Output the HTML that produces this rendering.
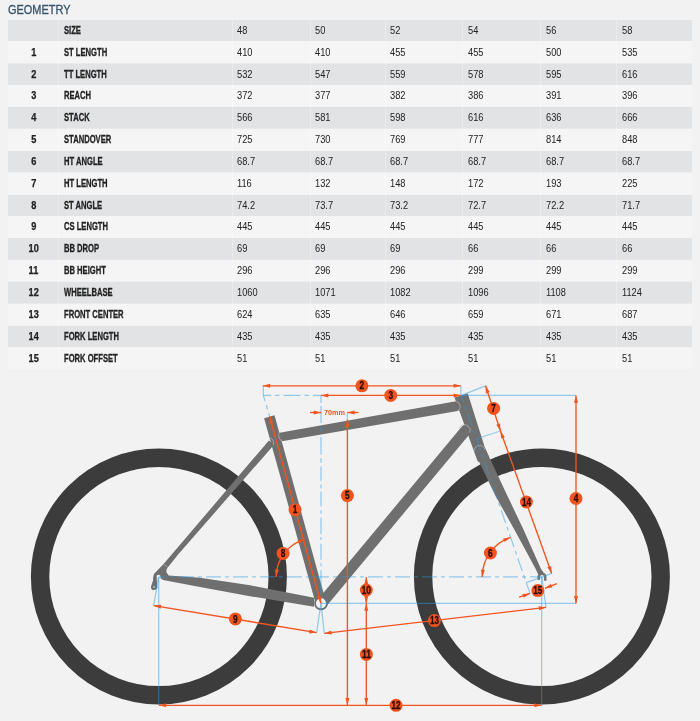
<!DOCTYPE html>
<html lang="en"><head><meta charset="utf-8"><title>Geometry</title>
<style>
html,body{margin:0;padding:0}
body{width:700px;height:721px;overflow:hidden;background:#f2f2f2;position:relative;font-family:"Liberation Sans",Arial,sans-serif;color:#222}
.ttl{position:absolute;left:8px;top:2.6px;font-size:12.6px;line-height:14px;color:#36526b;-webkit-text-stroke:.3px #36526b;white-space:nowrap;transform:scaleX(.87);transform-origin:0 50%}
.tb{position:absolute;left:8px;top:20px;width:684px;height:349.00px;background:linear-gradient(to bottom,#e2e3e5 0.50px,#e2e3e5 20.50px,#f5f5f5 21.50px,#f5f5f5 42.90px,#e2e3e5 43.90px,#e2e3e5 64.40px,#f5f5f5 65.40px,#f5f5f5 86.30px,#e2e3e5 87.30px,#e2e3e5 108.20px,#f5f5f5 109.20px,#f5f5f5 130.50px,#e2e3e5 131.50px,#e2e3e5 151.90px,#f5f5f5 152.90px,#f5f5f5 174.40px,#e2e3e5 175.40px,#e2e3e5 195.50px,#f5f5f5 196.50px,#f5f5f5 217.50px,#e2e3e5 218.50px,#e2e3e5 239.30px,#f5f5f5 240.30px,#f5f5f5 261.20px,#e2e3e5 262.20px,#e2e3e5 283.10px,#f5f5f5 284.10px,#f5f5f5 305.30px,#e2e3e5 306.30px,#e2e3e5 326.70px,#f5f5f5 327.70px,#f5f5f5 349.00px)}
.r{position:absolute;left:8px;width:684px;height:22px;line-height:22px;font-size:10.2px;white-space:nowrap}
.c{position:absolute;top:0}
.n{font-weight:bold;text-align:center;left:0;width:50.3px;-webkit-text-stroke:.25px #222}
.n span{display:inline-block;transform:scaleX(.9);position:relative;left:.6px}
.l{font-weight:bold;left:56px;-webkit-text-stroke:.3px #222}
.l span{display:inline-block;transform:scaleX(.747);transform-origin:0 50%}
.v span{display:inline-block;transform:scaleX(.91);transform-origin:0 50%}
.s{position:absolute;top:20px;width:1px;height:349px;background:rgba(255,255,255,.28)}
svg{position:absolute;left:0;top:0}
</style></head>
<body>
<div class="ttl">GEOMETRY</div>
<div class="tb"></div>
<div class="r" style="top:20px"><div class="c l"><span>SIZE</span></div><div class="c v" style="left:229.2px"><span>48</span></div><div class="c v" style="left:307.2px"><span>50</span></div><div class="c v" style="left:382.2px"><span>52</span></div><div class="c v" style="left:459.5px"><span>54</span></div><div class="c v" style="left:537.5px"><span>56</span></div><div class="c v" style="left:613.6px"><span>58</span></div></div>
<div class="r" style="top:42px"><div class="c n"><span>1</span></div><div class="c l"><span>ST LENGTH</span></div><div class="c v" style="left:229.2px"><span>410</span></div><div class="c v" style="left:307.2px"><span>410</span></div><div class="c v" style="left:382.2px"><span>455</span></div><div class="c v" style="left:459.5px"><span>455</span></div><div class="c v" style="left:537.5px"><span>500</span></div><div class="c v" style="left:613.6px"><span>535</span></div></div>
<div class="r" style="top:64px"><div class="c n"><span>2</span></div><div class="c l"><span>TT LENGTH</span></div><div class="c v" style="left:229.2px"><span>532</span></div><div class="c v" style="left:307.2px"><span>547</span></div><div class="c v" style="left:382.2px"><span>559</span></div><div class="c v" style="left:459.5px"><span>578</span></div><div class="c v" style="left:537.5px"><span>595</span></div><div class="c v" style="left:613.6px"><span>616</span></div></div>
<div class="r" style="top:85px"><div class="c n"><span>3</span></div><div class="c l"><span>REACH</span></div><div class="c v" style="left:229.2px"><span>372</span></div><div class="c v" style="left:307.2px"><span>377</span></div><div class="c v" style="left:382.2px"><span>382</span></div><div class="c v" style="left:459.5px"><span>386</span></div><div class="c v" style="left:537.5px"><span>391</span></div><div class="c v" style="left:613.6px"><span>396</span></div></div>
<div class="r" style="top:107px"><div class="c n"><span>4</span></div><div class="c l"><span>STACK</span></div><div class="c v" style="left:229.2px"><span>566</span></div><div class="c v" style="left:307.2px"><span>581</span></div><div class="c v" style="left:382.2px"><span>598</span></div><div class="c v" style="left:459.5px"><span>616</span></div><div class="c v" style="left:537.5px"><span>636</span></div><div class="c v" style="left:613.6px"><span>666</span></div></div>
<div class="r" style="top:129px"><div class="c n"><span>5</span></div><div class="c l"><span>STANDOVER</span></div><div class="c v" style="left:229.2px"><span>725</span></div><div class="c v" style="left:307.2px"><span>730</span></div><div class="c v" style="left:382.2px"><span>769</span></div><div class="c v" style="left:459.5px"><span>777</span></div><div class="c v" style="left:537.5px"><span>814</span></div><div class="c v" style="left:613.6px"><span>848</span></div></div>
<div class="r" style="top:151px"><div class="c n"><span>6</span></div><div class="c l"><span>HT ANGLE</span></div><div class="c v" style="left:229.2px"><span>68.7</span></div><div class="c v" style="left:307.2px"><span>68.7</span></div><div class="c v" style="left:382.2px"><span>68.7</span></div><div class="c v" style="left:459.5px"><span>68.7</span></div><div class="c v" style="left:537.5px"><span>68.7</span></div><div class="c v" style="left:613.6px"><span>68.7</span></div></div>
<div class="r" style="top:173px"><div class="c n"><span>7</span></div><div class="c l"><span>HT LENGTH</span></div><div class="c v" style="left:229.2px"><span>116</span></div><div class="c v" style="left:307.2px"><span>132</span></div><div class="c v" style="left:382.2px"><span>148</span></div><div class="c v" style="left:459.5px"><span>172</span></div><div class="c v" style="left:537.5px"><span>193</span></div><div class="c v" style="left:613.6px"><span>225</span></div></div>
<div class="r" style="top:195px"><div class="c n"><span>8</span></div><div class="c l"><span>ST ANGLE</span></div><div class="c v" style="left:229.2px"><span>74.2</span></div><div class="c v" style="left:307.2px"><span>73.7</span></div><div class="c v" style="left:382.2px"><span>73.2</span></div><div class="c v" style="left:459.5px"><span>72.7</span></div><div class="c v" style="left:537.5px"><span>72.2</span></div><div class="c v" style="left:613.6px"><span>71.7</span></div></div>
<div class="r" style="top:216px"><div class="c n"><span>9</span></div><div class="c l"><span>CS LENGTH</span></div><div class="c v" style="left:229.2px"><span>445</span></div><div class="c v" style="left:307.2px"><span>445</span></div><div class="c v" style="left:382.2px"><span>445</span></div><div class="c v" style="left:459.5px"><span>445</span></div><div class="c v" style="left:537.5px"><span>445</span></div><div class="c v" style="left:613.6px"><span>445</span></div></div>
<div class="r" style="top:238px"><div class="c n"><span>10</span></div><div class="c l"><span>BB DROP</span></div><div class="c v" style="left:229.2px"><span>69</span></div><div class="c v" style="left:307.2px"><span>69</span></div><div class="c v" style="left:382.2px"><span>69</span></div><div class="c v" style="left:459.5px"><span>66</span></div><div class="c v" style="left:537.5px"><span>66</span></div><div class="c v" style="left:613.6px"><span>66</span></div></div>
<div class="r" style="top:260px"><div class="c n"><span>11</span></div><div class="c l"><span>BB HEIGHT</span></div><div class="c v" style="left:229.2px"><span>296</span></div><div class="c v" style="left:307.2px"><span>296</span></div><div class="c v" style="left:382.2px"><span>296</span></div><div class="c v" style="left:459.5px"><span>299</span></div><div class="c v" style="left:537.5px"><span>299</span></div><div class="c v" style="left:613.6px"><span>299</span></div></div>
<div class="r" style="top:282px"><div class="c n"><span>12</span></div><div class="c l"><span>WHEELBASE</span></div><div class="c v" style="left:229.2px"><span>1060</span></div><div class="c v" style="left:307.2px"><span>1071</span></div><div class="c v" style="left:382.2px"><span>1082</span></div><div class="c v" style="left:459.5px"><span>1096</span></div><div class="c v" style="left:537.5px"><span>1108</span></div><div class="c v" style="left:613.6px"><span>1124</span></div></div>
<div class="r" style="top:304px"><div class="c n"><span>13</span></div><div class="c l"><span>FRONT CENTER</span></div><div class="c v" style="left:229.2px"><span>624</span></div><div class="c v" style="left:307.2px"><span>635</span></div><div class="c v" style="left:382.2px"><span>646</span></div><div class="c v" style="left:459.5px"><span>659</span></div><div class="c v" style="left:537.5px"><span>671</span></div><div class="c v" style="left:613.6px"><span>687</span></div></div>
<div class="r" style="top:326px"><div class="c n"><span>14</span></div><div class="c l"><span>FORK LENGTH</span></div><div class="c v" style="left:229.2px"><span>435</span></div><div class="c v" style="left:307.2px"><span>435</span></div><div class="c v" style="left:382.2px"><span>435</span></div><div class="c v" style="left:459.5px"><span>435</span></div><div class="c v" style="left:537.5px"><span>435</span></div><div class="c v" style="left:613.6px"><span>435</span></div></div>
<div class="r" style="top:348px"><div class="c n"><span>15</span></div><div class="c l"><span>FORK OFFSET</span></div><div class="c v" style="left:229.2px"><span>51</span></div><div class="c v" style="left:307.2px"><span>51</span></div><div class="c v" style="left:382.2px"><span>51</span></div><div class="c v" style="left:459.5px"><span>51</span></div><div class="c v" style="left:537.5px"><span>51</span></div><div class="c v" style="left:613.6px"><span>51</span></div></div>
<div class="s" style="left:58px"></div><div class="s" style="left:232px"></div><div class="s" style="left:310px"></div><div class="s" style="left:385px"></div><div class="s" style="left:462px"></div><div class="s" style="left:540px"></div><div class="s" style="left:616px"></div>
<svg width="700" height="721" viewBox="0 0 700 721">
<g fill="none" stroke="#3c3c3c" stroke-width="18.4"><circle cx="158.9" cy="576.5" r="118.8"/><circle cx="541.9" cy="576.5" r="118.8"/></g>
<g fill="#6f6f6f" stroke="none">
<path d="M268.9,440.4 L274.3,444.4 L177.7,555 L167.4,567.9 Q165.8,570.5 166.6,572.6 L168.7,575.6 L200,577.7 L250,585.3 L314,597.8 L314,606.8 L250,596.2 L200,587.1 L163.1,579.9 L160.6,578.2 L160.3,575.8 Q158.4,573.6 156.7,575.8 L157.1,585.9 Q158,588.6 155.9,589.6 L152.9,590.3 Q150.6,589 151,586.5 L153.2,580 Q152.6,575.5 154.6,573.2 L163.1,564.4 L171.3,555 Z"/>
<polygon points="264.1,418.3 274.5,415.3 326.4,603.3 315.6,603.3"/>
<path d="M278.3,432.9 L456,401.3 A5,5 0 0 1 457.6,411.1 L282,441.2 Z"/>
<line x1="321.6" y1="603.5" x2="465.8" y2="430.2" stroke="#6f6f6f" stroke-width="10.8" stroke-linecap="round"/>
<polygon points="454.5,397.5 467.8,393.5 485,448 489,457 478,462 475.5,455.5"/>
<path d="M474,451 Q476,445.5 482,446 L485,448 L507,495 L523.7,530 L541,569 L543.6,572.6 L538.2,574.4 L535.7,568.9 L514.6,530 L495,495 Z"/>
<path d="M538.9,579.8 L538.7,577 A3.3,3.3 0 0 1 545.3,577 L545.2,580.8" fill="none" stroke="#6f6f6f" stroke-width="2.4"/>
</g>
<g fill="none" stroke="#b9b9b9" stroke-width="0.7">
<path d="M474.3,452.5 A5.5,5.5 0 0 1 485,449.5"/>
<path d="M455.5,401.5 A5,5 0 0 1 457.3,411"/>
<path d="M459,428.5 A5.6,5.6 0 0 1 469.8,432.5"/>
<path d="M279.3,432.5 Q277.3,437 281.8,441.4"/>
<path d="M270,438 Q274.5,439.5 273.4,445"/>
<path d="M163.4,564 L167.8,567.6"/>
</g>
<circle cx="321" cy="603.3" r="6" fill="#f2f2f2" stroke="#6f6f6f" stroke-width="1.8"/>
<circle cx="154" cy="587" r="1.1" fill="#b9b9b9"/>
<g stroke="#2b9be6" stroke-opacity="0.47" stroke-width="1.25" fill="none">
<line x1="263.3" y1="385.8" x2="263.3" y2="395.4"/>
<line x1="158.7" y1="577" x2="158.7" y2="705"/>
<line x1="541.6" y1="577" x2="541.6" y2="705"/>
<line x1="321" y1="603.3" x2="576" y2="603.3"/>
<line x1="461" y1="395.4" x2="576" y2="395.4"/>
<line x1="460.9" y1="385.8" x2="460.9" y2="395.4"/>
<line x1="461.4" y1="395.4" x2="485.5" y2="385.8"/>
<line x1="477" y1="438.5" x2="500.5" y2="431"/>
<line x1="526.3" y1="582.6" x2="551.7" y2="573.4"/>
<line x1="541.8" y1="577" x2="546" y2="607.4"/>
<line x1="158.6" y1="577" x2="153.7" y2="605.6"/>
<line x1="321" y1="603.4" x2="316.6" y2="632.6"/>
<line x1="321" y1="603.4" x2="324.3" y2="633.4"/>
<line x1="347.3" y1="413" x2="347.3" y2="420"/>
<g stroke-dasharray="17 4 4.5 4">
<line x1="321" y1="395.4" x2="263.4" y2="395.4" stroke-dashoffset="9"/><line x1="263.4" y1="395.4" x2="269.5" y2="416" stroke-dashoffset="11"/><line x1="321" y1="395.4" x2="321" y2="603" stroke-dasharray="7.6 3 17 4 4.5 5.5 17.7 3.6 4.4 3.7 14.5 3.7 3.6 3.6 14.7 3.7 3.6 3.7 16.7 2.9 2.9 3.7 16 3.6 3 3.6 40"/>
<line x1="159" y1="576.9" x2="541.6" y2="576.9" stroke-dasharray="15 4 4 4" stroke-dashoffset="7"/><line x1="461.4" y1="395.4" x2="530" y2="593.4" stroke-dasharray="13.5 4 4 4" stroke-dashoffset="6"/>
</g></g>
<g stroke="#f3541f" stroke-width="1.35" fill="none">
<line x1="262.8" y1="385.8" x2="460.9" y2="385.8"/>
<line x1="321" y1="395.4" x2="460.9" y2="395.4"/>
<line x1="310" y1="412.5" x2="321" y2="412.5"/>
<line x1="358.5" y1="412.5" x2="347.3" y2="412.5"/>
<line x1="347.4" y1="419.7" x2="347.4" y2="705.3"/>
<line x1="269.6" y1="416.3" x2="320.9" y2="603.3"/>
<line x1="576" y1="395.4" x2="576" y2="603.4"/>
<line x1="485.5" y1="385.8" x2="500.5" y2="431"/>
<line x1="500.5" y1="431" x2="551.7" y2="573.4"/>
<line x1="366.3" y1="576.9" x2="366.3" y2="603.4"/>
<line x1="366.3" y1="603.4" x2="366.3" y2="705.3"/>
<line x1="158.9" y1="705.3" x2="541.6" y2="705.3"/>
<line x1="153.7" y1="605.6" x2="316.6" y2="632.6"/>
<line x1="324.3" y1="633.4" x2="546" y2="607.4"/>
<line x1="519.1" y1="597.2" x2="530" y2="593.4"/>
<line x1="556.9" y1="583.7" x2="544.9" y2="588.3"/>
<path d="M304.9,539.3 A39,39 0 0 0 276.2,576.9"/>
<path d="M510.5,537.3 A42,42 0 0 0 482.2,577"/>
</g>
<g fill="#f3541f"><polygon points="262.8,385.8 270.1,383.8 270.1,387.8"/><polygon points="460.9,385.8 453.6,387.8 453.6,383.8"/><polygon points="321,395.4 328.3,393.4 328.3,397.4"/><polygon points="460.9,395.4 453.6,397.4 453.6,393.4"/><polygon points="321,412.5 313.7,414.5 313.7,410.5"/><polygon points="347.3,412.5 354.6,410.5 354.6,414.5"/><polygon points="347.4,419.7 349.4,427 345.4,427"/><polygon points="347.4,705.3 345.4,698 349.4,698"/><polygon points="269.6,416.3 273.5,422.8 269.6,423.9"/><polygon points="320.9,603.3 317,596.8 320.9,595.7"/><polygon points="576,395.4 578,402.7 574,402.7"/><polygon points="576,603.4 574,596.1 578,596.1"/><polygon points="485.5,385.8 489.7,392.1 485.9,393.4"/><polygon points="500.5,431 496.3,424.7 500.1,423.4"/><polygon points="500.5,431 504.9,437.2 501.1,438.5"/><polygon points="551.7,573.4 547.3,567.2 551.1,565.9"/><polygon points="366.3,576.9 368.3,584.2 364.3,584.2"/><polygon points="366.3,603.4 364.3,596.1 368.3,596.1"/><polygon points="366.3,603.4 368.3,610.7 364.3,610.7"/><polygon points="366.3,705.3 364.3,698 368.3,698"/><polygon points="158.9,705.3 166.2,703.3 166.2,707.3"/><polygon points="541.6,705.3 534.3,707.3 534.3,703.3"/><polygon points="153.7,605.6 161.2,604.8 160.6,608.8"/><polygon points="316.6,632.6 309.1,633.4 309.7,629.4"/><polygon points="324.3,633.4 331.3,630.6 331.8,634.5"/><polygon points="546,607.4 539,610.2 538.5,606.3"/><polygon points="530,593.4 523.8,597.7 522.4,593.9"/><polygon points="544.9,588.3 551,583.8 552.4,587.6"/><polygon points="304.9,539.3 298.8,543.8 297.4,540"/><polygon points="276.2,576.9 274.9,569.4 278.9,569.8"/><polygon points="510.5,537.3 504.7,542.1 503,538.5"/><polygon points="482.2,577 480.9,569.5 484.9,569.9"/>
<circle cx="361.9" cy="385.8" r="6.5"/>
<circle cx="390.7" cy="395.4" r="6.5"/>
<circle cx="347.4" cy="495.6" r="6.5"/>
<circle cx="295" cy="509.7" r="6.5"/>
<circle cx="576" cy="498.5" r="6.5"/>
<circle cx="493.6" cy="408.4" r="6.5"/>
<circle cx="526.4" cy="502" r="6.5"/>
<circle cx="366.3" cy="590" r="6.5"/>
<circle cx="366.4" cy="654.4" r="6.5"/>
<circle cx="396" cy="705.3" r="6.5"/>
<circle cx="235.4" cy="618.9" r="6.5"/>
<circle cx="434.4" cy="620.6" r="6.5"/>
<circle cx="537.8" cy="590.6" r="6.5"/>
<circle cx="283.1" cy="553.4" r="6.5"/>
<circle cx="490.4" cy="553" r="6.5"/>
</g>
<g font-family="'Liberation Sans',Arial,sans-serif" font-weight="bold" font-size="10" text-anchor="middle" fill="#2b0d05" stroke="#2b0d05" stroke-width="0.3">
<text x="361.9" y="389.4" textLength="4.6" lengthAdjust="spacingAndGlyphs">2</text>
<text x="390.7" y="399" textLength="4.6" lengthAdjust="spacingAndGlyphs">3</text>
<text x="347.4" y="499.2" textLength="4.6" lengthAdjust="spacingAndGlyphs">5</text>
<text x="295" y="513.3" textLength="4.6" lengthAdjust="spacingAndGlyphs">1</text>
<text x="576" y="502.1" textLength="4.6" lengthAdjust="spacingAndGlyphs">4</text>
<text x="493.6" y="412" textLength="4.6" lengthAdjust="spacingAndGlyphs">7</text>
<text x="526.4" y="505.6" textLength="9" lengthAdjust="spacingAndGlyphs">14</text>
<text x="366.3" y="593.6" textLength="9" lengthAdjust="spacingAndGlyphs">10</text>
<text x="366.4" y="658" textLength="9" lengthAdjust="spacingAndGlyphs">11</text>
<text x="396" y="708.9" textLength="9" lengthAdjust="spacingAndGlyphs">12</text>
<text x="235.4" y="622.5" textLength="4.6" lengthAdjust="spacingAndGlyphs">9</text>
<text x="434.4" y="624.2" textLength="9" lengthAdjust="spacingAndGlyphs">13</text>
<text x="537.8" y="594.2" textLength="9" lengthAdjust="spacingAndGlyphs">15</text>
<text x="283.1" y="557" textLength="4.6" lengthAdjust="spacingAndGlyphs">8</text>
<text x="490.4" y="556.6" textLength="4.6" lengthAdjust="spacingAndGlyphs">6</text>
<text x="334.5" y="415.3" fill="#f3541f" stroke="none" font-size="8" textLength="21" lengthAdjust="spacingAndGlyphs">70mm</text>
</g></svg>
</body></html>
